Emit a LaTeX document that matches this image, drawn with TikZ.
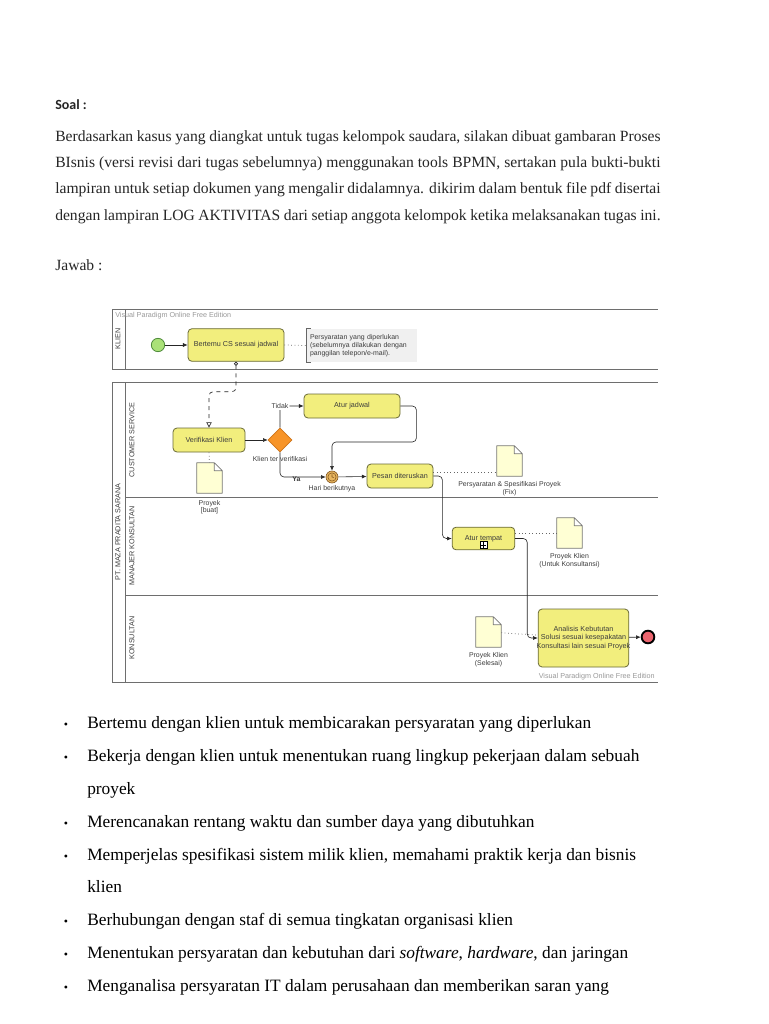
\documentclass[tikz,border=0pt]{standalone}
\usepackage{fontspec}
\usepackage{xcolor}
\setmainfont{Liberation Serif}
\newfontfamily\vpfont{Liberation Sans}
\newfontfamily\calfont{Carlito}
\usetikzlibrary{arrows.meta,shapes.geometric}

\definecolor{taskfill}{RGB}{242,238,125}
\definecolor{taskline}{RGB}{105,105,55}
\definecolor{gwfill}{RGB}{247,148,40}
\definecolor{gwline}{RGB}{205,115,25}
\definecolor{startfill}{RGB}{170,225,120}
\definecolor{startline}{RGB}{80,140,60}
\definecolor{endfill}{RGB}{235,100,110}
\definecolor{docfill}{RGB}{255,255,212}
\definecolor{docline}{RGB}{120,120,120}
\definecolor{annofill}{RGB}{240,240,240}
\definecolor{poolline}{RGB}{110,110,110}
\definecolor{vptext}{RGB}{60,60,60}
\definecolor{timerfill}{RGB}{232,182,95}
\definecolor{timerline}{RGB}{130,85,30}

\begin{document}
\begin{tikzpicture}[x=0.75pt, y=-0.75pt,
    task/.style={draw=taskline, fill=taskfill, rounded corners=3pt, line width=0.6pt, font=\vpfont\fontsize{5.4}{6.2}\selectfont, text=vptext, inner sep=1pt},
    docobj/.style={minimum width=18.75pt, minimum height=22.5pt, inner sep=0pt},
    doclbl/.style={font=\vpfont\fontsize{5.2}{5.8}\selectfont, text=vptext, align=center, inner sep=0pt},
    lane/.style={font=\vpfont\fontsize{5.4}{6}\selectfont, text=vptext, rotate=90, inner sep=0pt},
    wmark/.style={font=\vpfont\fontsize{5.4}{6}\selectfont, text=black!40, inner sep=0pt},
    flow/.style={draw=black!85, line width=0.45pt, -{Latex[length=3.5pt,width=3pt]}, rounded corners=3pt},
    assoc/.style={draw=black!60, line width=0.55pt, dotted},
    msgflow/.style={draw=black!85, line width=0.5pt, dashed, rounded corners=3pt, {Circle[open,length=3pt]}-{Triangle[open,length=4pt,width=4pt]}},
    body/.style={anchor=base west, inner sep=0pt, font=\fontsize{11.7}{14}\selectfont, text=black!85},
    item/.style={anchor=base west, inner sep=0pt, font=\fontsize{13}{15}\selectfont}
]
    % page
    \fill[white] (0,0) rectangle (768,1024);
    \useasboundingbox (0,0) rectangle (768,1024);

    % question
    \node[anchor=base west, inner sep=0pt, font=\calfont\bfseries\fontsize{10.5}{12}\selectfont, text=black!85] (soal) at (55,109) {Soal :};
    \node[body] (par1) at (55,141) {\makebox[454pt][s]{Berdasarkan kasus yang diangkat untuk tugas kelompok saudara, silakan dibuat gambaran Proses}};
    \node[body] (par2) at (55,167) {\makebox[454pt][s]{BIsnis (versi revisi dari tugas sebelumnya) menggunakan tools BPMN, sertakan pula bukti-bukti}};
    \node[body] (par3) at (55,193) {\makebox[454pt][s]{lampiran untuk setiap dokumen yang mengalir didalamnya. dikirim dalam bentuk file pdf disertai}};
    \node[body] (par4) at (55,220) {\makebox[454pt][s]{dengan lampiran LOG AKTIVITAS dari setiap anggota kelompok ketika melaksanakan tugas ini.}};
    \node[body] (jawab) at (55,270) {Jawab :};

    % pools and lanes
    \draw[poolline, line width=0.7pt] (112,309) -- (658,309) (112,369) -- (658,369) (112,309) -- (112,369) (125,309) -- (125,369);
    \draw[poolline, line width=0.7pt] (112,382) -- (658,382) (112,682) -- (658,682) (112,382) -- (112,682) (125,382) -- (125,682);
    \draw[poolline, line width=0.6pt] (125,497) -- (658,497) (125,595) -- (658,595);
    \node[lane] (klien) at (118,339) {KLIEN};
    \node[lane] (pt) at (118,532) {PT. MAZA PRADITA SARANA};
    \node[lane] (cs) at (132,440) {CUSTOMER SERVICE};
    \node[lane] (mk) at (132,546) {MANAJER KONSULTAN};
    \node[lane] (kons) at (132,638) {KONSULTAN};
    \node[wmark, anchor=west] (wmtop) at (115,316) {Visual Paradigm Online Free Edition};
    \node[wmark, anchor=east] (wmbot) at (655,677) {Visual Paradigm Online Free Edition};

    % events, tasks and gateway
    \node[circle, draw=startline, fill=startfill, line width=0.6pt, minimum size=10pt, inner sep=0pt] (start) at (158,345) {};
    \node[task, minimum width=72pt, minimum height=24.5pt] (bertemu) at (236,345) {Bertemu CS sesuai jadwal};
    \node[task, minimum width=54pt, minimum height=18pt] (verif) at (209,440) {Verifikasi Klien};
    \node[diamond, draw=gwline, fill=gwfill, line width=0.5pt, minimum width=18pt, minimum height=18pt, inner sep=0pt] (gw) at (280,440) {};
    \node[task, minimum width=72pt, minimum height=18pt] (aturjadwal) at (352,406) {Atur jadwal};
    \node[circle, draw=timerline, fill=timerfill, line width=0.5pt, minimum size=9pt, inner sep=0pt] (timer) at (332,477) {};
    \draw[timerline, line width=0.4pt] (timer.center) circle (3.1pt) (timer.center) -- ++(0,-2.6) (timer.center) -- ++(2,0.6);
    \node[task, minimum width=49.5pt, minimum height=18pt] (pesan) at (400,476) {Pesan diteruskan};
    \node[task, minimum width=47pt, minimum height=17pt] (aturtempat) at (483.5,538.5) {Atur tempat};
    \node[draw=black, fill=white, line width=0.4pt, minimum size=5pt, inner sep=0pt, anchor=south] (atplus) at ([yshift=1.2pt]aturtempat.south) {};
    \draw[line width=0.4pt, shorten <=1pt, shorten >=1pt] (atplus.north) -- (atplus.south) (atplus.west) -- (atplus.east);
    \node[task, minimum width=68pt, minimum height=43.5pt, align=center] (analisis) at (583.5,638) {\makebox[0pt]{Analisis Kebututan}\\\makebox[0pt]{Solusi sesuai kesepakatan}\\\makebox[0pt]{Konsultasi lain sesuai Proyek}};
    \node[circle, draw=black, fill=endfill, line width=1.4pt, minimum size=9.5pt, inner sep=0pt] (stop) at (648,637) {};

    % annotation
    \node[fill=annofill, minimum width=82.5pt, minimum height=24.75pt, text width=78pt, inner xsep=2pt, align=left, font=\vpfont\fontsize{5.2}{6}\selectfont, text=vptext] (anno) at (362,345.5) {Persyaratan yang diperlukan\\(sebelumnya dilakukan dengan\\panggilan telepon/e-mail).};
    \draw[black!60, line width=0.5pt] ([xshift=3pt]anno.north west) -- (anno.north west) -- (anno.south west) -- ([xshift=3pt]anno.south west);

    % data objects
    \node[docobj] (proyek) at (209.5,478) {};
    \node[docobj] (spek) at (509.5,461) {};
    \node[docobj] (klienK) at (569.5,533) {};
    \node[docobj] (klienS) at (488.5,632) {};
    \foreach \d in {proyek,spek,klienK,klienS}
        \draw[docline, fill=docfill, line width=0.5pt, line join=round] (\d.north west) -- ([xshift=-6pt]\d.north east) -- ([yshift=-6pt]\d.north east) -- (\d.south east) -- (\d.south west) -- cycle
            ([xshift=-6pt]\d.north east) |- ([yshift=-6pt]\d.north east);
    \node[doclbl, anchor=north] (proyeklbl) at ([yshift=-5pt]proyek.south) {Proyek\\{[buat]}};
    \node[doclbl, anchor=north] (speklbl) at ([yshift=-4pt]spek.south) {Persyaratan \& Spesifikasi Proyek\\(Fix)};
    \node[doclbl, anchor=north] (klienKlbl) at ([yshift=-4pt]klienK.south) {Proyek Klien\\(Untuk Konsultansi)};
    \node[doclbl, anchor=north] (klienSlbl) at ([yshift=-4pt]klienS.south) {Proyek Klien\\(Selesai)};

    % sequence flows
    \draw[flow] (start) -- (bertemu);
    \draw[msgflow] (bertemu.south) -- ++(0,30) -| (verif.north);
    \draw[flow] (verif) -- (gw);
    \draw[flow] (gw.north) |- (aturjadwal.west) node[pos=0.5, fill=white, inner sep=1pt, font=\vpfont\fontsize{5.2}{6}\selectfont, text=vptext] (tidak) {Tidak};
    \draw[flow] (gw.south) |- (timer.west) node[pos=0.68, yshift=-1.5pt, inner sep=0pt, font=\vpfont\bfseries\fontsize{5.2}{6}\selectfont, text=vptext] (ya) {Ya};
    \node[doclbl] (gwlbl) at (280,459) {Klien ter verifikasi};
    \node[doclbl] (timerlbl) at (332,489) {Hari berikutnya};
    \draw[flow] (aturjadwal.east) -| ++(16,36) -| (timer.north);
    \draw[flow] (timer) -- (pesan);
    \draw[flow] (pesan.east) -- ++(9,0) |- (aturtempat.west);
    \draw[flow] (aturtempat.east) -- ++(12,0) |- (analisis.west);
    \draw[flow] (analisis) -- (stop);

    % associations
    \draw[assoc] (bertemu.east) -- (anno.west);
    \draw[assoc] (verif.south) -- (proyek.north);
    \draw[assoc] ([yshift=3pt]pesan.east) -- ([yshift=3pt]pesan.east -| spek.west);
    \draw[assoc] ([yshift=4pt]aturtempat.east) -- ([yshift=4pt]aturtempat.east -| klienK.west);
    \draw[assoc] (klienS) -- (analisis);

    % answer list
    \foreach \y in {728,761,827,860,925,958,991}
        \node[anchor=base, inner sep=0pt, font=\fontsize{9}{10}\selectfont] at (66,\y) {\textbullet};
    \node[item] (li1) at (87,728) {Bertemu dengan klien untuk membicarakan persyaratan yang diperlukan};
    \node[item] (li2) at (87,761) {Bekerja dengan klien untuk menentukan ruang lingkup pekerjaan dalam sebuah};
    \node[item] (li2b) at (87,794) {proyek};
    \node[item] (li3) at (87,827) {Merencanakan rentang waktu dan sumber daya yang dibutuhkan};
    \node[item] (li4) at (87,860) {Memperjelas spesifikasi sistem milik klien, memahami praktik kerja dan bisnis};
    \node[item] (li4b) at (87,892) {klien};
    \node[item] (li5) at (87,925) {Berhubungan dengan staf di semua tingkatan organisasi klien};
    \node[item] (li6) at (87,958) {Menentukan persyaratan dan kebutuhan dari \textit{software}, \textit{hardware}, dan jaringan};
    \node[item] (li7) at (87,991) {Menganalisa persyaratan IT dalam perusahaan dan memberikan saran yang};
\end{tikzpicture}
\end{document}
